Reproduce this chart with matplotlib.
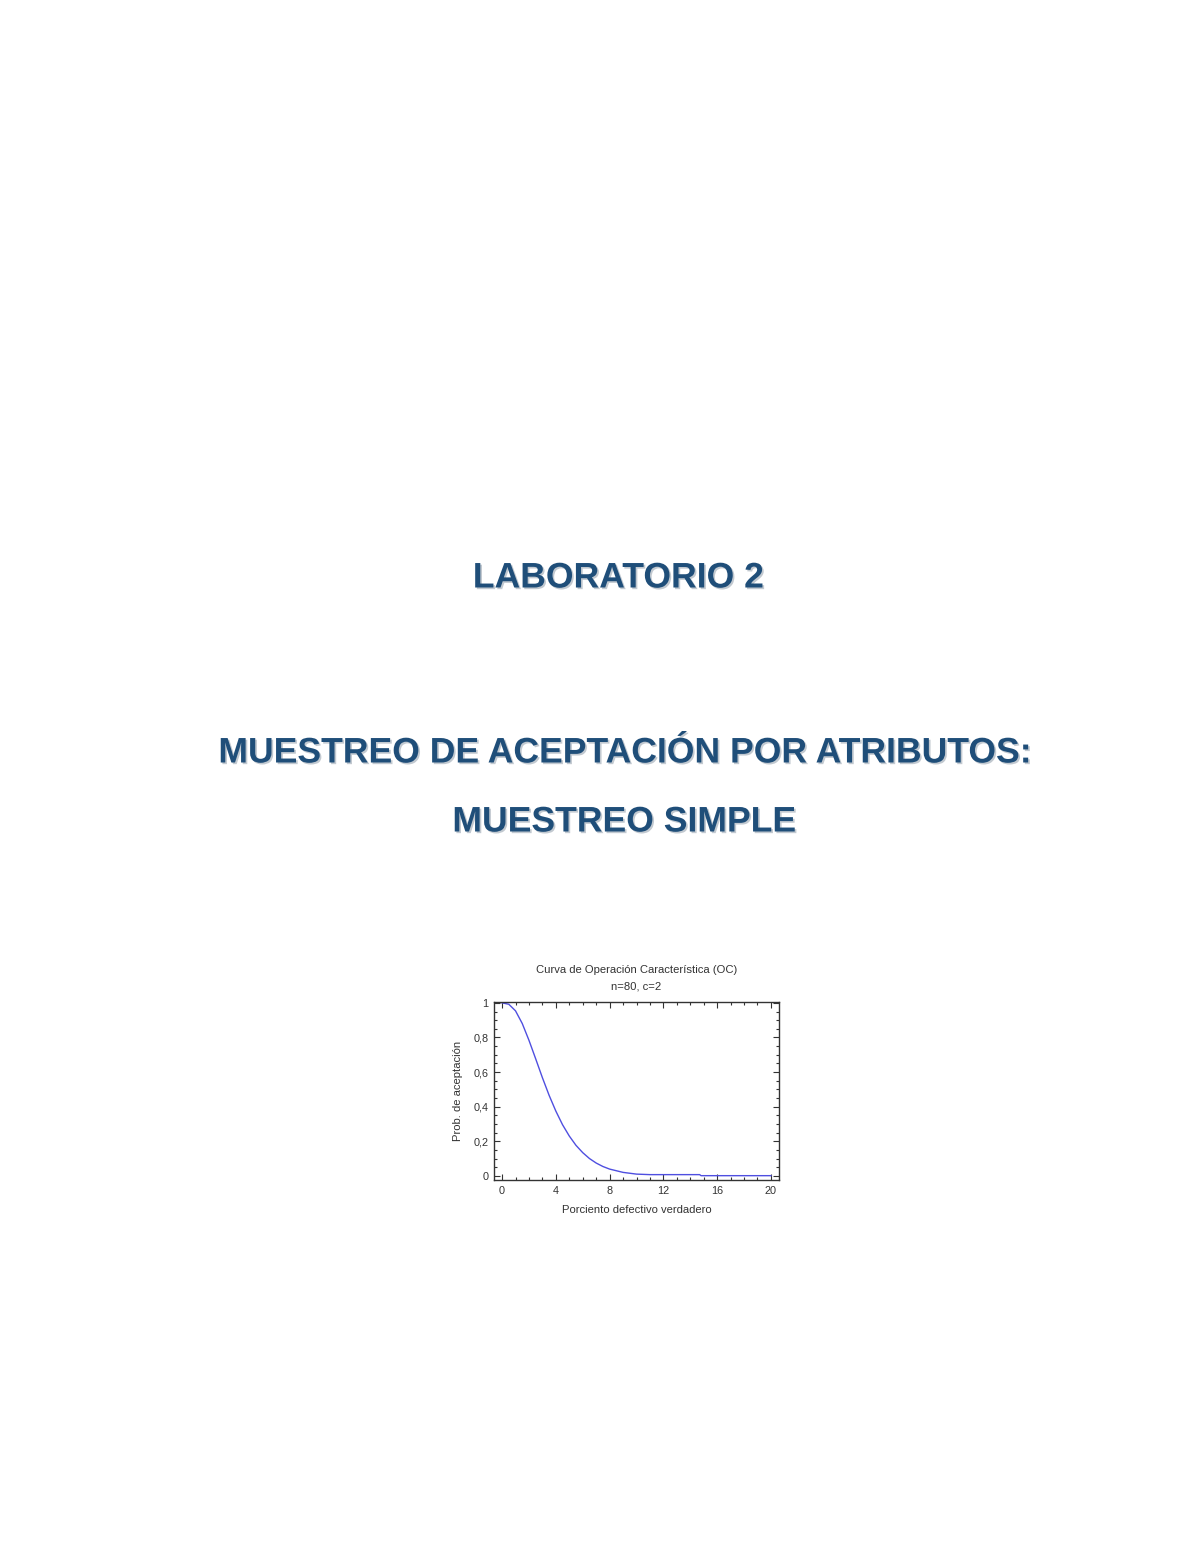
import matplotlib
matplotlib.use("Agg")
import matplotlib.pyplot as plt
import matplotlib.patheffects as pe
from matplotlib.ticker import MultipleLocator, FuncFormatter

plt.rcParams['font.family'] = ['Liberation Sans', 'DejaVu Sans']

# OC curve (n=80, c=2)
pct_defective = [0, 0.5, 1, 1.5, 2, 2.5, 3, 3.5, 4, 4.5, 5, 5.5, 6, 6.5, 7,
                 7.5, 8, 9, 10, 11, 12, 13, 14, 14.7, 14.8, 16, 18, 20]
prob_accept = [1.0, 0.992, 0.954, 0.881, 0.784, 0.677, 0.568, 0.466, 0.375,
               0.296, 0.231, 0.177, 0.135, 0.101, 0.075, 0.055, 0.040,
               0.021, 0.011, 0.008, 0.008, 0.008, 0.008, 0.008, 0.002,
               0.002, 0.002, 0.002]

page_titles = ["LABORATORIO 2",
               "MUESTREO DE ACEPTACIÓN POR ATRIBUTOS:",
               "MUESTREO SIMPLE"]
title_x_px = [618, 624, 624]
title_y_px = [578, 753, 822]

chart_title = "Curva de Operación Característica (OC)\nn=80, c=2"
x_label = "Porciento defectivo verdadero"
y_label = "Prob. de aceptación"

W, H = 1200, 1553
fig = plt.figure(figsize=(W / 100, H / 100), dpi=100)
fig.patch.set_facecolor("white")

navy = "#1f4e79"
shadow = [pe.SimplePatchShadow(offset=(1.2, -1.2), shadow_rgbFace="#9aa5b1", alpha=0.6),
          pe.Normal()]
for txt, xpx, ypx in zip(page_titles, title_x_px, title_y_px):
    fig.text(xpx / W, 1 - ypx / H, txt, ha="center", va="center", fontsize=25.6,
             fontweight="bold", color=navy, path_effects=shadow)

# chart axes placed where the picture has them
left, right, top, bottom = 494, 779, 1002, 1180
ax = fig.add_axes([left / W, 1 - bottom / H, (right - left) / W, (bottom - top) / H])
ax.plot(pct_defective, prob_accept, color="#4f4fe0", lw=1.0)

ax.set_xlim(-0.6, 20.6)
ax.set_ylim(-0.023, 1.005)
ax.xaxis.set_major_locator(MultipleLocator(4))
ax.xaxis.set_minor_locator(MultipleLocator(1))
ax.yaxis.set_major_locator(MultipleLocator(0.2))
ax.yaxis.set_minor_locator(MultipleLocator(0.05))
ax.yaxis.set_major_formatter(FuncFormatter(
    lambda v, _: "0" if abs(v) < 1e-9 else ("1" if abs(v - 1) < 1e-9 else ("%.1f" % v).replace(".", ","))))
ax.tick_params(which="both", direction="in", top=True, right=True,
               labelsize=7.8, colors="#333333", width=0.8)
ax.tick_params(which="major", length=4, pad=4)
ax.tick_params(which="minor", length=2)
for s in ax.spines.values():
    s.set_linewidth(1.0)
    s.set_color("#333333")

ax.set_title(chart_title, fontsize=8.1, color="#333333", pad=9, linespacing=1.75)
ax.set_xlabel(x_label, fontsize=8.1, color="#333333", labelpad=6.5)
ax.set_ylabel(y_label, fontsize=8.1, color="#333333", labelpad=7.5)

fig.savefig("out.png", dpi=100)
